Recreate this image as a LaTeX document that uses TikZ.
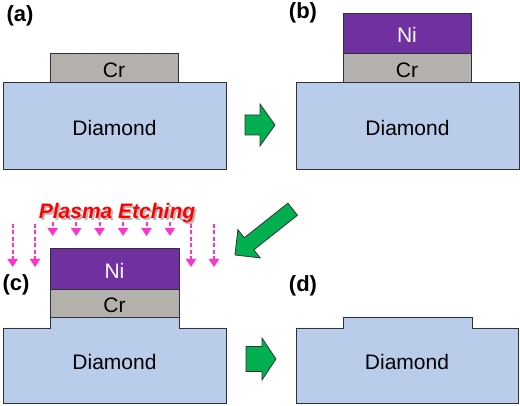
\documentclass[tikz,border=0pt]{standalone}
\usepackage{fontspec}
\setmainfont{Liberation Sans}
\usetikzlibrary{shapes,positioning,arrows.meta}
\definecolor{diamondblue}{HTML}{B9CDEA}
\definecolor{crgray}{HTML}{B4B0AB}
\definecolor{nipurple}{HTML}{7030A0}
\definecolor{arrowgreen}{HTML}{00B050}
\definecolor{plasmapink}{HTML}{FF33CC}
\definecolor{edgegray}{HTML}{30303C}
\tikzset{
  basic/.style = {draw=edgegray, rectangle, line width=0.9pt, inner sep=0pt, text height=20pt, text depth=0pt, font=\fontsize{21}{21}\selectfont},
  diam/.style = {basic, fill=diamondblue, minimum width=223pt, minimum height=87pt},
  crlayer/.style = {basic, fill=crgray, minimum width=128pt, minimum height=29pt},
  nilayer/.style = {basic, fill=nipurple, text=white, minimum width=128pt, minimum height=40pt},
  pics/blockarrow/.style args = {#1/#2/#3/#4}{code = {
    \draw[draw=black!80, fill=arrowgreen, line width=0.8pt] (0,#1) -- ({#4-#3},#1) -- ({#4-#3},#2) -- (#4,0)
      -- ({#4-#3},-#2) -- ({#4-#3},-#1) -- (0,-#1) -- cycle;
  }},
}

\begin{document}
\begin{tikzpicture}[
  x = 1pt, y = -1pt,
  tag/.style = {inner sep=0pt, font=\fontsize{22}{22}\selectfont\bfseries},
  difftext/.style = {inner sep=0pt, text height=20pt, text depth=0pt, font=\fontsize{21}{21}\selectfont},
  stepped/.style = {draw=edgegray, line width=0.9pt, fill=diamondblue},
  plasma/.style = {draw=plasmapink, line width=2pt, dash pattern=on 4pt off 2.5pt, -{Triangle[width=10pt,length=8pt]}},
 ]
 \useasboundingbox (0,0) rectangle (520,406);

 % (a)
 \node[tag] (taga) at (20,16) {(a)};
 \node[diam] (diama) at (114.5,125.5) {Diamond};
 \node[crlayer] (cra) at (114,67.5) {Cr};

 % (b)
 \node[tag] (tagb) at (303,13) {(b)};
 \node[diam] (diamb) at (407.5,125.5) {Diamond};
 \node[crlayer] (crb) at (407,67.5) {Cr};
 \node[nilayer] (nib) at (407,33) {Ni};

 % (c)
 \node[tag] (tagc) at (16,285) {(c)};
 \draw[stepped] (3,328) -| (50,317) -| (179,328) -| (226,403) -- (3,403) -- cycle;
 \node[difftext] (diamc) at (114.5,360) {Diamond};
 \node[crlayer, minimum width=129pt, minimum height=28pt] (crc) at (114.5,303) {Cr};
 \node[nilayer, minimum width=129pt, minimum height=41pt] (nic) at (114.5,268.5) {Ni};
 \node[inner sep=0pt, text=red, font=\fontsize{21}{21}\selectfont\bfseries\itshape] (plasmatext) at (117,214)
   {\rlap{\kern2pt\raisebox{-2pt}{\color{gray!55}Plasma Etching}}Plasma Etching};
 \foreach \x in {12.7,35,191,214}
   \draw[plasma] (\x,224) -- (\x,267);
 \foreach \i in {0,...,5}
   \draw[plasma] ({52.7+23.45*\i},222) -- ({52.7+23.45*\i},236);

 % (d)
 \node[tag] (tagd) at (303,286) {(d)};
 \draw[stepped] (296,328) -| (343,317) -| (472,328) -| (518,403) -- (296,403) -- cycle;
 \node[difftext] (diamd) at (407,360) {Diamond};

 \pic (ab) at (245,125) {blockarrow=10/21/15/30};
 \pic[rotate=218.4] (bc) at (292.7,209.2) {blockarrow=7.7/18/18/73.7};
 \pic (cd) at (246,359) {blockarrow=12.5/21/14/30};

\end{tikzpicture}
\end{document}
